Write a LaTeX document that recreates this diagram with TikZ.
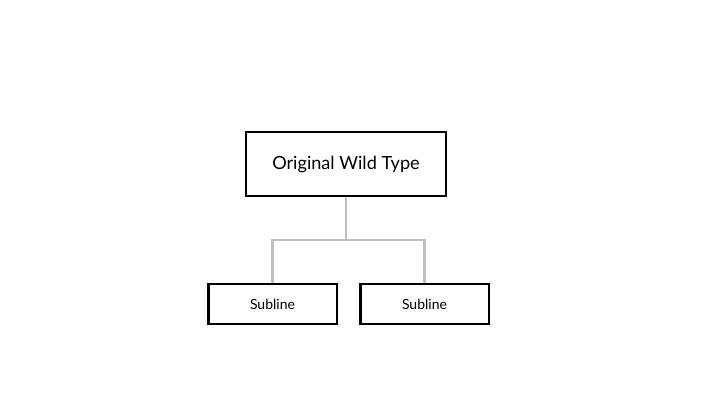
\documentclass[tikz,border=0pt]{standalone}
\usepackage{fontspec}
\setmainfont{Lato}
\usepackage{xcolor}
\usetikzlibrary{positioning,calc}
\definecolor{linkgray}{RGB}{191,191,191}
\tikzset{
  parentbox/.style={draw=black,line width=2pt,minimum width=150pt,minimum height=48pt,inner sep=0pt,font=\fontsize{13.6}{16}\selectfont},
  subbox/.style={draw=black,line width=2pt,minimum width=96.5pt,minimum height=30pt,inner sep=0pt,font=\fontsize{10.5}{12}\selectfont},
  link/.style={draw=linkgray,line width=2.2pt}
}
\begin{document}
\begin{tikzpicture}[x=0.75pt,y=-0.75pt]
	\useasboundingbox (0,0) rectangle (720,405);
	% parent
	\node[parentbox] (wild) at (346,164) {Original Wild Type};
	% children
	\node[subbox] (subA) at (272.5,304) {Subline};
	\node[subbox] (subB) at (424.5,304) {Subline};
	% tree links
	\coordinate (fork) at (346,240);
	\draw[link] (wild.south) -- (fork);
	\draw[link] (fork) -| (subA.north);
	\draw[link] (fork) -| (subB.north);
\end{tikzpicture}
\end{document}
